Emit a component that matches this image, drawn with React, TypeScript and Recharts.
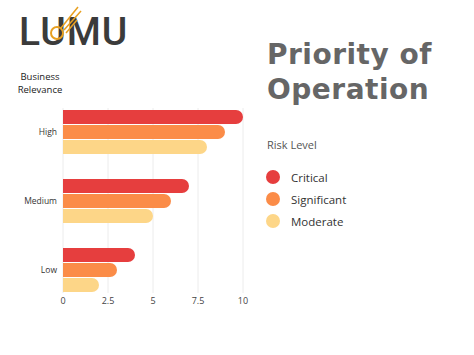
import { BarChart, Bar, XAxis, YAxis, CartesianGrid } from 'recharts'

const categories = ['High', 'Medium', 'Low']
const critical = [10, 7, 4]
const significant = [9, 6, 3]
const moderate = [8, 5, 2]
const xTicks = [0, 2.5, 5, 7.5, 10]

const data = categories.map((name, i) => ({
  name,
  critical: critical[i],
  significant: significant[i],
  moderate: moderate[i],
}))

const legend = [
  { label: 'Critical', color: '#e63e3e' },
  { label: 'Significant', color: '#fb8c48' },
  { label: 'Moderate', color: '#fdd688' },
]

const font = '"Open Sans", sans-serif'

function XTick({ x, y, payload }: any) {
  return (
    <text x={x} y={y - 4} textAnchor="middle" dominantBaseline="central" fontSize={9} fill="#444" fontFamily={font}>
      {payload.value}
    </text>
  )
}

function YTick({ x, y, payload }: any) {
  return (
    <text x={x} y={y} textAnchor="end" dominantBaseline="central" fontSize={8.5} fill="#333" fontFamily={font}>
      {payload.value}
    </text>
  )
}

function Logo() {
  return (
    <svg width={150} height={62} style={{ position: 'absolute', left: 0, top: 0 }}>
      <text x={19} y={45} fontSize={39} fontWeight={500} letterSpacing={1} fill="#3b3b3b" fontFamily="Roboto, sans-serif">
        LUMU
      </text>
      <circle cx={57} cy={33} r={6} fill="none" stroke="#e8a020" strokeWidth={2} />
      <line x1={61} y1={28} x2={78} y2={7} stroke="#e8a020" strokeWidth={1.5} />
      <line x1={64} y1={30} x2={81} y2={11} stroke="#e8a020" strokeWidth={1.5} />
      <line x1={66} y1={33} x2={77} y2={20} stroke="#e8a020" strokeWidth={1.5} />
    </svg>
  )
}

export default function App() {
  return (
    <div style={{ position: 'fixed', left: 0, top: 0, width: 474, height: 355, background: '#fff', fontFamily: font }}>
      <Logo />
      <div style={{ position: 'absolute', left: 0, width: 80, top: 70, textAlign: 'center', fontSize: 9.5, lineHeight: '13px', color: '#222' }}>
        Business
        <br />
        Relevance
      </div>
      <div
        style={{
          position: 'absolute',
          left: 267,
          top: 37,
          fontSize: 28,
          fontWeight: 700,
          letterSpacing: 0.5,
          lineHeight: '35px',
          color: '#666',
          fontFamily: '"DejaVu Sans", sans-serif',
        }}
      >
        Priority of
        <br />
        Operation
      </div>
      <div style={{ position: 'absolute', left: 267, top: 137, fontSize: 11, color: '#555' }}>Risk Level</div>
      {legend.map((item, i) => (
        <div key={item.label} style={{ position: 'absolute', left: 266, top: 170 + i * 22, display: 'flex', alignItems: 'center', height: 14 }}>
          <span style={{ width: 14, height: 14, borderRadius: 7, background: item.color, display: 'inline-block' }} />
          <span style={{ marginLeft: 11, fontSize: 11.5, fontWeight: 500, color: '#333' }}>{item.label}</span>
        </div>
      ))}
      <div style={{ position: 'absolute', left: 0, top: 0 }}>
        <BarChart
          width={474}
          height={355}
          data={data}
          layout="vertical"
          margin={{ top: 97, right: 231, bottom: 31, left: 0 }}
          barSize={14}
          barGap={1}
        >
          <CartesianGrid horizontal={false} stroke="#ececec" y={108} height={185} />
          <XAxis
            type="number"
            domain={[0, 10]}
            ticks={xTicks}
            axisLine={false}
            tickLine={false}
            tickSize={0}
            tickMargin={0}
            height={20}
            tick={<XTick />}
          />
          <YAxis
            type="category"
            dataKey="name"
            axisLine={false}
            tickLine={false}
            tickSize={0}
            tickMargin={6}
            width={63}
            tick={<YTick />}
          />
          <Bar dataKey="critical" fill="#e63e3e" radius={[0, 7, 7, 0]} isAnimationActive={false} />
          <Bar dataKey="significant" fill="#fb8c48" radius={[0, 7, 7, 0]} isAnimationActive={false} />
          <Bar dataKey="moderate" fill="#fdd688" radius={[0, 7, 7, 0]} isAnimationActive={false} />
        </BarChart>
      </div>
    </div>
  )
}
